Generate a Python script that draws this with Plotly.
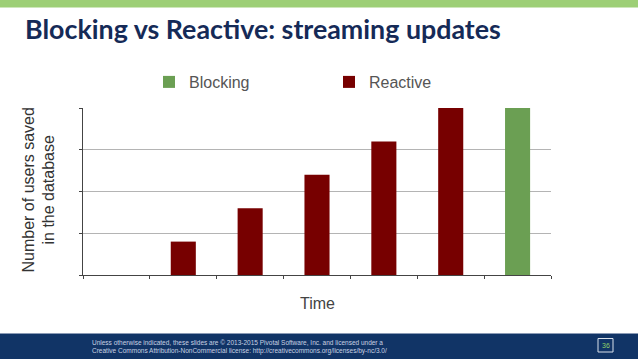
import plotly.graph_objects as go

# ---- data ----
time_slots = ["t1", "t2", "t3", "t4", "t5", "t6", "t7"]
reactive_users = [None, 0.8, 1.6, 2.4, 3.2, 4.0, None]
blocking_users = [None, None, None, None, None, None, 4.0]
y_ticks = [0, 1, 2, 3, 4]

W, H = 638, 359
L, R, T, B = 83, 87, 108, 84
pw = W - L - R
ph = H - T - B

def px_x(x):  # pixel -> paper x
    return (x - L) / pw

def px_y(y):  # pixel -> paper y
    return (H - B - y) / ph

fig = go.Figure()
fig.add_trace(go.Bar(name="Blocking", x=time_slots, y=blocking_users,
                     marker=dict(color="#6b9f53", line=dict(width=0)), width=0.375))
fig.add_trace(go.Bar(name="Reactive", x=time_slots, y=reactive_users,
                     marker=dict(color="#770000", line=dict(width=0)), width=0.375))

shapes = [
    # green top band
    dict(type="rect", xref="paper", yref="paper", x0=px_x(0), x1=px_x(W),
         y0=px_y(7.5), y1=px_y(0), fillcolor="#9dcf76", line=dict(width=0), layer="above"),
    # footer band
    dict(type="rect", xref="paper", yref="paper", x0=px_x(0), x1=px_x(W),
         y0=px_y(H), y1=px_y(333.5), fillcolor="#113466", line=dict(width=0), layer="above"),
    dict(type="line", xref="paper", yref="paper", x0=px_x(0), x1=px_x(W),
         y0=px_y(333.5), y1=px_y(333.5), line=dict(color="#8a9ab5", width=1), layer="above"),
    # slide number badge
    dict(type="rect", xref="paper", yref="paper", x0=px_x(598), x1=px_x(613),
         y0=px_y(352), y1=px_y(338.5), fillcolor="rgba(0,0,0,0)",
         line=dict(color="#d9e0ea", width=1), layer="above"),
]

annotations = [
    dict(text="Number of users saved<br>in the database", xref="paper", yref="paper",
         x=px_x(38), y=px_y(190.5), xanchor="center", yanchor="middle", textangle=-90,
         showarrow=False, font=dict(family="Liberation Sans, Arial", size=16, color="#333333")),
    dict(text="Time", xref="paper", yref="paper", x=0.5, y=px_y(303), xanchor="center",
         yanchor="middle", showarrow=False,
         font=dict(family="Liberation Sans, Arial", size=16, color="#444444")),
    dict(text="Unless otherwise indicated, these slides are © 2013-2015 Pivotal Software, Inc. and licensed under a<br>"
              "Creative Commons Attribution-NonCommercial license: http://creativecommons.org/licenses/by-nc/3.0/",
         xref="paper", yref="paper", x=px_x(90), y=px_y(347), xanchor="left", yanchor="middle",
         align="left", showarrow=False,
         font=dict(family="Liberation Sans, Arial", size=6.5, color="#c9d2e3")),
    dict(text="36", xref="paper", yref="paper", x=px_x(605.5), y=px_y(345.5), xanchor="center",
         yanchor="middle", showarrow=False,
         font=dict(family="Liberation Sans, Arial", size=7, color="#8fd16a")),
]

fig.update_layout(
    width=W, height=H,
    margin=dict(l=L, r=R, t=T, b=B),
    paper_bgcolor="white", plot_bgcolor="white",
    barmode="overlay",
    title=dict(text="<b>Blocking vs Reactive: streaming updates</b>", xref="container", yref="container",
               x=25 / W, xanchor="left", y=1 - 30 / H, yanchor="middle",
               font=dict(family="Lato, Open Sans", size=26.8, color="#152a57")),
    legend=dict(orientation="h", x=px_x(149), xanchor="left", y=px_y(82), yanchor="middle",
                entrywidth=135, entrywidthmode="pixels", traceorder="normal",
                font=dict(family="Liberation Sans, Arial", size=16, color="#555555"),
                bgcolor="rgba(0,0,0,0)"),
    xaxis=dict(type="category", categoryorder="array", categoryarray=time_slots,
               range=[-0.5, 6.5], showticklabels=False, tickson="boundaries",
               ticks="outside", ticklen=3, tickcolor="#444444", showline=True,
               linecolor="#444444", linewidth=1, showgrid=False, zeroline=False, fixedrange=True),
    yaxis=dict(range=[0, 4], tickvals=y_ticks, showticklabels=False, ticks="outside", ticklen=3,
               tickcolor="#444444", showline=True, linecolor="#444444", linewidth=1,
               showgrid=True, gridcolor="#b4b4b4", gridwidth=1, zeroline=False),
    shapes=shapes,
    annotations=annotations,
    showlegend=True,
)

fig.write_html("out.html", config={"displayModeBar": False},
               post_script="document.body.style.margin='0';document.body.style.overflow='hidden';")
